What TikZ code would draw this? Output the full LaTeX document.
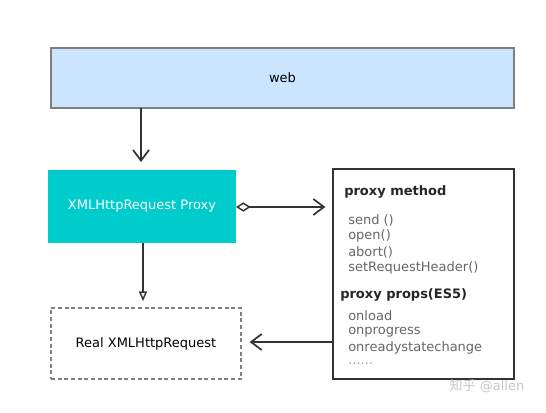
\documentclass[tikz,border=0pt]{standalone}
\usepackage{fontspec}
\setmainfont{DejaVu Sans}
\newfontfamily\cjk{Noto Sans CJK SC}
\usetikzlibrary{arrows.meta,positioning}
\definecolor{webblue}{RGB}{204,229,255}
\definecolor{proxycyan}{RGB}{0,204,204}
\definecolor{linegray}{RGB}{51,51,51}
\definecolor{itemgray}{RGB}{102,102,102}

\begin{document}
\begin{tikzpicture}[x=0.75pt,y=-0.75pt,font=\fontsize{9.75}{12}\selectfont,
	conn/.style={draw=linegray,line width=1.4pt},
	chev/.style={-{Straight Barb[length=8pt,width=12pt,line width=1.3pt]}},
	item/.style={anchor=west,text=itemgray,inner sep=0pt},
	head/.style={anchor=west,text=black!85,font=\fontsize{9.75}{12}\selectfont\bfseries,inner sep=0pt}]
		\useasboundingbox (0,0) rectangle (546,412);
		% boxes
		\node[draw=gray,line width=0.8pt,fill=webblue,minimum width=347.25pt,minimum height=45pt] (web) at (282.5,78) {web};
		\node[fill=proxycyan,text=white,minimum width=141pt,minimum height=54.75pt] (proxy) at (142,206.5) {XMLHttpRequest Proxy};
		\node[draw=linegray,line width=1.4pt,minimum width=135.75pt,minimum height=157.5pt] (api) at (423.5,274) {};
		\node[draw=gray,dashed,dash pattern=on 3pt off 2pt,line width=0.9pt,minimum width=142.5pt,minimum height=53.25pt] (real) at (146,343.5) {Real XMLHttpRequest};
		% box text
		\node[head] (pm) at (344,192) {proxy method};
		\node[item] (send) at (348,220) {send ()};
		\node[item] (open) at (348,236) {open()};
		\node[item] (abort) at (348,252) {abort()};
		\node[item] (srh) at (348,268) {setRequestHeader()};
		\node[head] (pp) at (340,295) {proxy props(ES5)};
		\node[item] (onload) at (348,316) {onload};
		\node[item] (onprog) at (348,332) {onprogress};
		\node[item] (onrsc) at (348,348) {onreadystatechange};
		\node[item,text=itemgray!60] (dots) at (348,364) {......};
		% links
		\coordinate (w1) at (141,108);
		\coordinate (p1) at (141,170);
		\draw[conn,chev,shorten >=6pt] (w1) -- (p1);
		\coordinate (p3) at (236,207);
		\draw[conn,{Diamond[open,length=11pt,width=7pt,line width=1.1pt]}-{Straight Barb[length=8pt,width=12pt,line width=1.3pt]},shorten >=5pt] (p3) -- (p3 -| api.west);
		\coordinate (p2) at (143,243);
		\coordinate (r1) at (143,308);
		\draw[conn,-{Triangle[open,length=7.5pt,width=6pt,line width=1.1pt]},shorten >=5pt] (p2) -- (r1);
		\coordinate (a1) at (333,342);
		\draw[conn,chev,shorten >=6pt] (a1) -- (a1 -| real.east);
		% mark
		\node[text=gray!45] (mark) at (487,386) {{\cjk 知乎} @allen};
\end{tikzpicture}
\end{document}
